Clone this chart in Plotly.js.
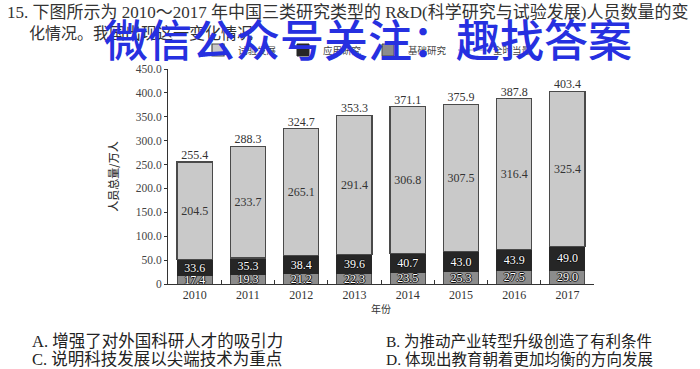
<!DOCTYPE html>
<html>
<head>
<meta charset="utf-8">
<script src="https://cdn.plot.ly/plotly-3.0.1.min.js"></script>
<style>html,body{margin:0;padding:0;background:#fff;}#chart{width:700px;height:369px;}</style>
</head>
<body>
<div id="chart"></div>
<script>
var years = ['2010','2011','2012','2013','2014','2015','2016','2017'];
var basicResearch = [17.4, 19.3, 21.2, 22.3, 23.5, 25.3, 27.5, 29.0];
var appliedResearch = [33.6, 35.3, 38.4, 39.6, 40.7, 43.0, 43.9, 49.0];
var experimentalDev = [204.5, 233.7, 265.1, 291.4, 306.8, 307.5, 316.4, 325.4];
var fullTimeTotal = [255.4, 288.3, 324.7, 353.3, 371.1, 375.9, 387.8, 403.4];
var yTickVals = [0, 50, 100, 150, 200, 250, 300, 350, 400, 450];
var yTickText = ['0', '50.0', '100.0', '150.0', '200.0', '250.0', '300.0', '350.0', '400.0', '450.0'];
var seriesNames = ['试验发展', '应用研究', '基础研究', '全时当量'];

var serif = 'Liberation Serif, DejaVu Serif, Noto Sans CJK SC, serif';
var cjk = 'Noto Sans CJK SC, sans-serif';
var mixed = 'Liberation Serif, Noto Sans CJK SC, serif';
var outline = '-1px 0 #111, 1px 0 #111, 0 1px #111, 0 -1px #111';
function fmt(a){ return a.map(function(v){ return v.toFixed(1); }); }

var L = 168, R = 594, T = 69, B = 284;
function px(x){ return (x - L) / (R - L); }
function py(y){ return (B - y) / (B - T); }

var traces = [
  {type:'bar', name:seriesNames[2], x:years, y:basicResearch, text:fmt(basicResearch),
   textposition:'inside', insidetextanchor:'middle', constraintext:'none', textangle:0,
   textfont:{family:serif, size:12, color:'#ffffff', shadow:outline},
   marker:{color:'#8c8c8c', line:{color:'#4a4a4a', width:1}}, legendrank:3, hoverinfo:'skip'},
  {type:'bar', name:seriesNames[1], x:years, y:appliedResearch, text:fmt(appliedResearch),
   textposition:'inside', insidetextanchor:'middle', constraintext:'none', textangle:0,
   textfont:{family:serif, size:12, color:'#ffffff', shadow:outline},
   marker:{color:'#262626', line:{color:'#262626', width:1}}, legendrank:2, hoverinfo:'skip'},
  {type:'bar', name:seriesNames[0], x:years, y:experimentalDev, text:fmt(experimentalDev),
   textposition:'inside', insidetextanchor:'middle', constraintext:'none', textangle:0,
   textfont:{family:serif, size:12, color:'#333333'},
   marker:{color:'#c9c9c9', line:{color:'#4a4a4a', width:1.2}}, legendrank:1, hoverinfo:'skip'},
  {type:'scatter', mode:'text', x:years, y:fullTimeTotal, text:fmt(fullTimeTotal),
   textposition:'top center', textfont:{family:serif, size:12, color:'#333333'},
   showlegend:false, cliponaxis:false, hoverinfo:'skip'},
  {type:'scatter', mode:'lines', name:seriesNames[3], x:years, y:years.map(function(){return null;}),
   line:{color:'#9a9a9a', width:1}, legendrank:4, hoverinfo:'skip'}
];

var layout = {
  width:700, height:369,
  margin:{l:L, r:700-R, t:T, b:369-B},
  paper_bgcolor:'#ffffff', plot_bgcolor:'#ffffff',
  barmode:'stack', bargap:0.34,
  showlegend:true,
  legend:{orientation:'h', traceorder:'normal', x:px(198), y:py(50), xanchor:'left', yanchor:'middle',
          font:{family:cjk, size:9.5, color:'#444'}, itemwidth:30, entrywidth:40,
          bgcolor:'rgba(0,0,0,0)', tracegroupgap:0},
  xaxis:{type:'category', tickson:'boundaries', ticks:'inside', ticklen:4, tickcolor:'#333',
         showline:true, linecolor:'#333', linewidth:1, showgrid:false, zeroline:false,
         tickfont:{family:serif, size:12, color:'#333'},
         title:{text:'年份', font:{family:cjk, size:10, color:'#333'}, standoff:4}},
  yaxis:{range:[0,450], tickvals:yTickVals, ticktext:yTickText, ticks:'outside', ticklen:3,
         tickcolor:'#333', showline:true, linecolor:'#333', linewidth:1, showgrid:false, zeroline:false,
         tickfont:{family:serif, size:11.5, color:'#444'},
         title:{text:'人员总量/万人', font:{family:cjk, size:11, color:'#333', weight:500}, standoff:14}},
  annotations:[
    {xref:'paper', yref:'paper', x:px(5), y:py(12), xanchor:'left', yanchor:'middle', showarrow:false,
     text:'15. 下图所示为 2010～2017 年中国三类研究类型的 R&amp;D(科学研究与试验发展)人员数量的变',
     font:{family:mixed, size:17, color:'#333'}},
    {xref:'paper', yref:'paper', x:px(27), y:py(33), xanchor:'left', yanchor:'middle', showarrow:false,
     text:'化情况。我国出现这一变化情况', font:{family:mixed, size:16, color:'#333'}},
    {xref:'paper', yref:'paper', x:px(30), y:py(341), xanchor:'left', yanchor:'middle', showarrow:false,
     text:'A. 增强了对外国科研人才的吸引力', font:{family:mixed, size:16.5, color:'#222'}},
    {xref:'paper', yref:'paper', x:px(384), y:py(341), xanchor:'left', yanchor:'middle', showarrow:false,
     text:'B. 为推动产业转型升级创造了有利条件', font:{family:mixed, size:15.5, color:'#222'}},
    {xref:'paper', yref:'paper', x:px(30), y:py(359), xanchor:'left', yanchor:'middle', showarrow:false,
     text:'C. 说明科技发展以尖端技术为重点', font:{family:mixed, size:16.5, color:'#222'}},
    {xref:'paper', yref:'paper', x:px(384), y:py(359), xanchor:'left', yanchor:'middle', showarrow:false,
     text:'D. 体现出教育朝着更加均衡的方向发展', font:{family:mixed, size:15.5, color:'#222'}},
    {xref:'paper', yref:'paper', x:px(368), y:py(38), xanchor:'center', yanchor:'middle', showarrow:false,
     text:'微信公众号关注：趣找答案', font:{family:cjk, size:44, color:'#2630e0', weight:500}}
  ]
};

Plotly.newPlot('chart', traces, layout, {staticPlot:true, displayModeBar:false});
</script>
</body>
</html>
